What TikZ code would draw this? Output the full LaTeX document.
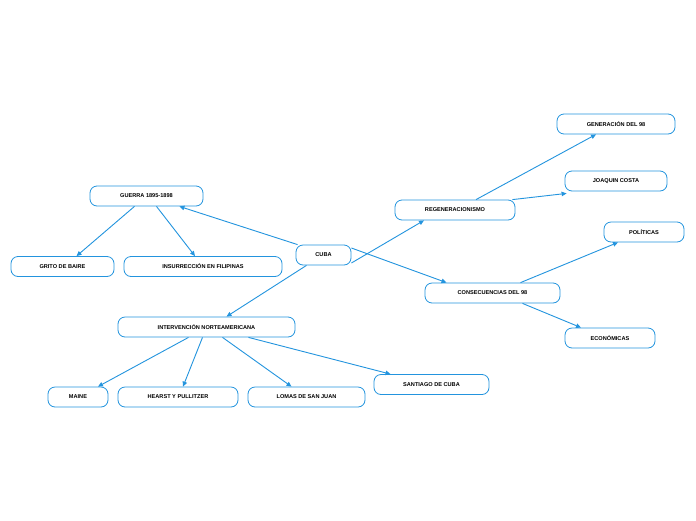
\documentclass[tikz,border=0pt]{standalone}
\usepackage{fontspec}
\setmainfont{Liberation Sans}
\usetikzlibrary{arrows.meta}
\definecolor{ln}{RGB}{35,148,222}
\begin{document}
\begin{tikzpicture}[x=1pt,y=-1pt,
 box/.style={draw=ln,rounded corners=7pt,minimum height=20pt,inner sep=0pt,font=\fontsize{5.6}{6}\selectfont\bfseries,line width=0.8pt},
 con/.style={draw=ln,line width=0.9pt,-{Triangle[length=5pt,width=4.5pt]}}]
\fill[white] (0,0) rectangle (696,520);
\useasboundingbox (0,0) rectangle (696,520);
\node[box,minimum width=55pt] (cuba) at (323.5,255) {CUBA};
\node[box,minimum width=113pt] (guerra) at (146.5,196) {GUERRA 1895-1898};
\node[box,minimum width=103pt] (grito) at (62.5,266.5) {GRITO DE BAIRE};
\node[box,minimum width=158pt] (insur) at (203,266.5) {INSURRECCIÓN EN FILIPINAS};
\node[box,minimum width=177pt] (inter) at (206.5,327) {INTERVENCIÓN NORTEAMERICANA};
\node[box,minimum width=60pt] (maine) at (78,397) {MAINE};
\node[box,minimum width=120pt] (hearst) at (178,397) {HEARST Y PULLITZER};
\node[box,minimum width=117pt] (lomas) at (306.5,397) {LOMAS DE SAN JUAN};
\node[box,minimum width=115pt] (sant) at (431.5,384.5) {SANTIAGO DE CUBA};
\node[box,minimum width=120pt] (regen) at (455,210) {REGENERACIONISMO};
\node[box,minimum width=118pt] (gen) at (616,124) {GENERACIÓN DEL 98};
\node[box,minimum width=102pt] (joaq) at (616,181) {JOAQUIN COSTA};
\node[box,minimum width=135pt] (cons) at (492.5,293) {CONSECUENCIAS DEL 98};
\node[box,minimum width=80pt] (pol) at (644,232) {POLÍTICAS};
\node[box,minimum width=90pt] (econ) at (610,338) {ECONÓMICAS};
\draw[con] ([xshift=2pt]cuba.north west) -- ([xshift=-24pt]guerra.south east);
\draw[con] ([xshift=-12pt]guerra.south) -- ([xshift=14pt]grito.north);
\draw[con] ([xshift=10pt]guerra.south) -- ([xshift=-8pt]insur.north);
\draw[con] ([xshift=-17pt]cuba.south) -- ([xshift=20pt]inter.north);
\draw[con] ([xshift=-18pt]inter.south) -- ([xshift=20pt]maine.north);
\draw[con] ([xshift=-4pt]inter.south) -- ([xshift=5pt]hearst.north);
\draw[con] ([xshift=16pt]inter.south) -- ([xshift=-15pt]lomas.north);
\draw[con] ([xshift=42pt]inter.south) -- ([xshift=-41pt]sant.north);
\draw[con] ([yshift=-8pt]cuba.east) -- ([xshift=-31pt]regen.south);
\draw[con] ([xshift=21pt]regen.north) -- ([xshift=-20pt]gen.south);
\draw[con] ([xshift=-3pt]regen.north east) -- ([yshift=-2pt,xshift=2pt]joaq.south west);
\draw[con] ([yshift=7pt]cuba.east) -- ([xshift=-46pt]cons.north);
\draw[con] ([xshift=28pt]cons.north) -- ([xshift=-26pt]pol.south);
\draw[con] ([xshift=30pt]cons.south) -- ([xshift=-29pt]econ.north);
\end{tikzpicture}
\end{document}
